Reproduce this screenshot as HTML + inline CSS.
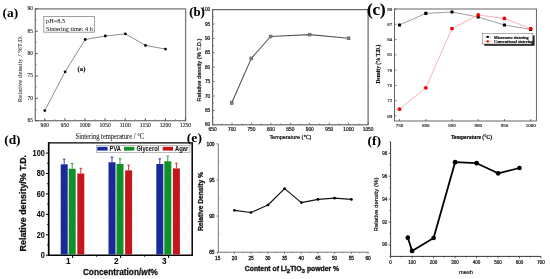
<!DOCTYPE html>
<html><head><meta charset="utf-8"><title>Relative density figure</title>
<style>html,body{margin:0;padding:0;background:#fff;}svg{display:block;filter:blur(0.3px);}
.s{font-family:"Liberation Serif","Times New Roman",serif;}
.a{font-family:"Liberation Sans",Arial,sans-serif;}</style>
</head><body>
<svg width="550" height="279" viewBox="0 0 550 279">
<rect width="550" height="279" fill="#fff"/>
<rect x="35.30" y="8.90" width="150.30" height="111.80" fill="none" stroke="#7a7a7a" stroke-width="1.3" />
<line x1="35.30" y1="120.70" x2="37.80" y2="120.70" stroke="#444" stroke-width="0.9" />
<text class="s" x="33.00" y="122.00" font-size="5.4" text-anchor="end" fill="#222"  stroke="#222" stroke-width="0.12">65</text>
<line x1="35.30" y1="98.34" x2="37.80" y2="98.34" stroke="#444" stroke-width="0.9" />
<text class="s" x="33.00" y="99.64" font-size="5.4" text-anchor="end" fill="#222"  stroke="#222" stroke-width="0.12">70</text>
<line x1="35.30" y1="75.98" x2="37.80" y2="75.98" stroke="#444" stroke-width="0.9" />
<text class="s" x="33.00" y="77.28" font-size="5.4" text-anchor="end" fill="#222"  stroke="#222" stroke-width="0.12">75</text>
<line x1="35.30" y1="53.62" x2="37.80" y2="53.62" stroke="#444" stroke-width="0.9" />
<text class="s" x="33.00" y="54.92" font-size="5.4" text-anchor="end" fill="#222"  stroke="#222" stroke-width="0.12">80</text>
<line x1="35.30" y1="31.26" x2="37.80" y2="31.26" stroke="#444" stroke-width="0.9" />
<text class="s" x="33.00" y="32.56" font-size="5.4" text-anchor="end" fill="#222"  stroke="#222" stroke-width="0.12">85</text>
<line x1="35.30" y1="8.90" x2="37.80" y2="8.90" stroke="#444" stroke-width="0.9" />
<text class="s" x="33.00" y="10.20" font-size="5.4" text-anchor="end" fill="#222"  stroke="#222" stroke-width="0.12">90</text>
<line x1="35.30" y1="109.52" x2="36.80" y2="109.52" stroke="#7a7a7a" stroke-width="0.8" />
<line x1="35.30" y1="87.16" x2="36.80" y2="87.16" stroke="#7a7a7a" stroke-width="0.8" />
<line x1="35.30" y1="64.80" x2="36.80" y2="64.80" stroke="#7a7a7a" stroke-width="0.8" />
<line x1="35.30" y1="42.44" x2="36.80" y2="42.44" stroke="#7a7a7a" stroke-width="0.8" />
<line x1="35.30" y1="20.08" x2="36.80" y2="20.08" stroke="#7a7a7a" stroke-width="0.8" />
<line x1="44.80" y1="120.70" x2="44.80" y2="118.20" stroke="#444" stroke-width="0.9" />
<text class="s" x="44.80" y="127.30" font-size="5.6" text-anchor="middle" fill="#222"  stroke="#222" stroke-width="0.12">900</text>
<line x1="64.90" y1="120.70" x2="64.90" y2="118.20" stroke="#444" stroke-width="0.9" />
<text class="s" x="64.90" y="127.30" font-size="5.6" text-anchor="middle" fill="#222"  stroke="#222" stroke-width="0.12">950</text>
<line x1="85.00" y1="120.70" x2="85.00" y2="118.20" stroke="#444" stroke-width="0.9" />
<text class="s" x="85.00" y="127.30" font-size="5.6" text-anchor="middle" fill="#222"  stroke="#222" stroke-width="0.12">1000</text>
<line x1="105.10" y1="120.70" x2="105.10" y2="118.20" stroke="#444" stroke-width="0.9" />
<text class="s" x="105.10" y="127.30" font-size="5.6" text-anchor="middle" fill="#222"  stroke="#222" stroke-width="0.12">1050</text>
<line x1="125.20" y1="120.70" x2="125.20" y2="118.20" stroke="#444" stroke-width="0.9" />
<text class="s" x="125.20" y="127.30" font-size="5.6" text-anchor="middle" fill="#222"  stroke="#222" stroke-width="0.12">1100</text>
<line x1="145.30" y1="120.70" x2="145.30" y2="118.20" stroke="#444" stroke-width="0.9" />
<text class="s" x="145.30" y="127.30" font-size="5.6" text-anchor="middle" fill="#222"  stroke="#222" stroke-width="0.12">1150</text>
<line x1="165.40" y1="120.70" x2="165.40" y2="118.20" stroke="#444" stroke-width="0.9" />
<text class="s" x="165.40" y="127.30" font-size="5.6" text-anchor="middle" fill="#222"  stroke="#222" stroke-width="0.12">1200</text>
<line x1="185.50" y1="120.70" x2="185.50" y2="118.20" stroke="#444" stroke-width="0.9" />
<text class="s" x="185.50" y="127.30" font-size="5.6" text-anchor="middle" fill="#222"  stroke="#222" stroke-width="0.12">1250</text>
<line x1="54.85" y1="120.70" x2="54.85" y2="119.20" stroke="#7a7a7a" stroke-width="0.8" />
<line x1="74.95" y1="120.70" x2="74.95" y2="119.20" stroke="#7a7a7a" stroke-width="0.8" />
<line x1="95.05" y1="120.70" x2="95.05" y2="119.20" stroke="#7a7a7a" stroke-width="0.8" />
<line x1="115.15" y1="120.70" x2="115.15" y2="119.20" stroke="#7a7a7a" stroke-width="0.8" />
<line x1="135.25" y1="120.70" x2="135.25" y2="119.20" stroke="#7a7a7a" stroke-width="0.8" />
<line x1="155.35" y1="120.70" x2="155.35" y2="119.20" stroke="#7a7a7a" stroke-width="0.8" />
<line x1="175.45" y1="120.70" x2="175.45" y2="119.20" stroke="#7a7a7a" stroke-width="0.8" />
<polyline points="44.80,110.60 65.10,71.80 85.20,39.50 105.30,36.00 125.40,33.90 145.50,45.40 165.50,49.10" fill="none" stroke="#707070" stroke-width="0.8" stroke-linejoin="round"/>
<circle cx="44.80" cy="110.60" r="1.4" fill="#000"/>
<circle cx="65.10" cy="71.80" r="1.4" fill="#000"/>
<circle cx="85.20" cy="39.50" r="1.4" fill="#000"/>
<circle cx="105.30" cy="36.00" r="1.4" fill="#000"/>
<circle cx="125.40" cy="33.90" r="1.4" fill="#000"/>
<circle cx="145.50" cy="45.40" r="1.4" fill="#000"/>
<circle cx="165.50" cy="49.10" r="1.4" fill="#000"/>
<rect x="43.80" y="16.60" width="50.60" height="15.60" fill="#fff" stroke="#888" stroke-width="0.8" />
<text class="s" x="46.00" y="23.20" font-size="6.9" fill="#111"  textLength="19.2" lengthAdjust="spacingAndGlyphs" stroke="#111" stroke-width="0.03">pH=8.5</text>
<text class="s" x="46.00" y="30.90" font-size="6.9" fill="#111"  textLength="46.8" lengthAdjust="spacingAndGlyphs" stroke="#111" stroke-width="0.03">Sintering time: 4 h</text>
<text class="s" x="77.60" y="71.20" font-size="6.2" font-weight="bold" fill="#000"  textLength="7.8" lengthAdjust="spacingAndGlyphs" stroke="#000" stroke-width="0.12">(a)</text>
<text class="s" x="21.60" y="68.80" font-size="7.0" text-anchor="middle" fill="#222" transform="rotate(-90 21.60 68.80)"  textLength="67.0" lengthAdjust="spacingAndGlyphs" stroke="#222" stroke-width="0.02">Relative density / %T.D.</text>
<text class="s" x="75.60" y="138.80" font-size="7.2" fill="#222"  textLength="68.6" lengthAdjust="spacingAndGlyphs" stroke="#222" stroke-width="0.08">Sintering temperature / °C</text>
<text class="s" x="2.60" y="17.00" font-size="13.4" font-weight="bold" fill="#000"  textLength="15.6" lengthAdjust="spacingAndGlyphs">(a)</text>
<rect x="212.60" y="9.60" width="155.50" height="115.20" fill="none" stroke="#666" stroke-width="1.2" />
<line x1="212.60" y1="124.80" x2="214.80" y2="124.80" stroke="#666" stroke-width="0.8" />
<text class="a" x="210.30" y="126.40" font-size="4.8" text-anchor="end" fill="#222"  stroke="#222" stroke-width="0.22">60</text>
<line x1="212.60" y1="110.40" x2="214.80" y2="110.40" stroke="#666" stroke-width="0.8" />
<text class="a" x="210.30" y="112.00" font-size="4.8" text-anchor="end" fill="#222"  stroke="#222" stroke-width="0.22">65</text>
<line x1="212.60" y1="96.00" x2="214.80" y2="96.00" stroke="#666" stroke-width="0.8" />
<text class="a" x="210.30" y="97.60" font-size="4.8" text-anchor="end" fill="#222"  stroke="#222" stroke-width="0.22">70</text>
<line x1="212.60" y1="81.60" x2="214.80" y2="81.60" stroke="#666" stroke-width="0.8" />
<text class="a" x="210.30" y="83.20" font-size="4.8" text-anchor="end" fill="#222"  stroke="#222" stroke-width="0.22">75</text>
<line x1="212.60" y1="67.20" x2="214.80" y2="67.20" stroke="#666" stroke-width="0.8" />
<text class="a" x="210.30" y="68.80" font-size="4.8" text-anchor="end" fill="#222"  stroke="#222" stroke-width="0.22">80</text>
<line x1="212.60" y1="52.80" x2="214.80" y2="52.80" stroke="#666" stroke-width="0.8" />
<text class="a" x="210.30" y="54.40" font-size="4.8" text-anchor="end" fill="#222"  stroke="#222" stroke-width="0.22">85</text>
<line x1="212.60" y1="38.40" x2="214.80" y2="38.40" stroke="#666" stroke-width="0.8" />
<text class="a" x="210.30" y="40.00" font-size="4.8" text-anchor="end" fill="#222"  stroke="#222" stroke-width="0.22">90</text>
<line x1="212.60" y1="24.00" x2="214.80" y2="24.00" stroke="#666" stroke-width="0.8" />
<text class="a" x="210.30" y="25.60" font-size="4.8" text-anchor="end" fill="#222"  stroke="#222" stroke-width="0.22">95</text>
<line x1="212.60" y1="9.60" x2="214.80" y2="9.60" stroke="#666" stroke-width="0.8" />
<text class="a" x="210.30" y="11.20" font-size="4.8" text-anchor="end" fill="#222"  stroke="#222" stroke-width="0.22">100</text>
<line x1="212.60" y1="117.60" x2="213.90" y2="117.60" stroke="#666" stroke-width="0.7" />
<line x1="212.60" y1="103.20" x2="213.90" y2="103.20" stroke="#666" stroke-width="0.7" />
<line x1="212.60" y1="88.80" x2="213.90" y2="88.80" stroke="#666" stroke-width="0.7" />
<line x1="212.60" y1="74.40" x2="213.90" y2="74.40" stroke="#666" stroke-width="0.7" />
<line x1="212.60" y1="60.00" x2="213.90" y2="60.00" stroke="#666" stroke-width="0.7" />
<line x1="212.60" y1="45.60" x2="213.90" y2="45.60" stroke="#666" stroke-width="0.7" />
<line x1="212.60" y1="31.20" x2="213.90" y2="31.20" stroke="#666" stroke-width="0.7" />
<line x1="212.60" y1="16.80" x2="213.90" y2="16.80" stroke="#666" stroke-width="0.7" />
<line x1="212.60" y1="124.80" x2="212.60" y2="122.60" stroke="#666" stroke-width="0.8" />
<text class="a" x="212.60" y="131.40" font-size="4.8" text-anchor="middle" fill="#222"  stroke="#222" stroke-width="0.22">650</text>
<line x1="232.04" y1="124.80" x2="232.04" y2="122.60" stroke="#666" stroke-width="0.8" />
<text class="a" x="232.04" y="131.40" font-size="4.8" text-anchor="middle" fill="#222"  stroke="#222" stroke-width="0.22">700</text>
<line x1="251.47" y1="124.80" x2="251.47" y2="122.60" stroke="#666" stroke-width="0.8" />
<text class="a" x="251.47" y="131.40" font-size="4.8" text-anchor="middle" fill="#222"  stroke="#222" stroke-width="0.22">750</text>
<line x1="270.91" y1="124.80" x2="270.91" y2="122.60" stroke="#666" stroke-width="0.8" />
<text class="a" x="270.91" y="131.40" font-size="4.8" text-anchor="middle" fill="#222"  stroke="#222" stroke-width="0.22">800</text>
<line x1="290.35" y1="124.80" x2="290.35" y2="122.60" stroke="#666" stroke-width="0.8" />
<text class="a" x="290.35" y="131.40" font-size="4.8" text-anchor="middle" fill="#222"  stroke="#222" stroke-width="0.22">850</text>
<line x1="309.79" y1="124.80" x2="309.79" y2="122.60" stroke="#666" stroke-width="0.8" />
<text class="a" x="309.79" y="131.40" font-size="4.8" text-anchor="middle" fill="#222"  stroke="#222" stroke-width="0.22">900</text>
<line x1="329.23" y1="124.80" x2="329.23" y2="122.60" stroke="#666" stroke-width="0.8" />
<text class="a" x="329.23" y="131.40" font-size="4.8" text-anchor="middle" fill="#222"  stroke="#222" stroke-width="0.22">950</text>
<line x1="348.66" y1="124.80" x2="348.66" y2="122.60" stroke="#666" stroke-width="0.8" />
<text class="a" x="348.66" y="131.40" font-size="4.8" text-anchor="middle" fill="#222"  stroke="#222" stroke-width="0.22">1000</text>
<line x1="368.10" y1="124.80" x2="368.10" y2="122.60" stroke="#666" stroke-width="0.8" />
<text class="a" x="368.10" y="131.40" font-size="4.8" text-anchor="middle" fill="#222"  stroke="#222" stroke-width="0.22">1050</text>
<line x1="222.32" y1="124.80" x2="222.32" y2="123.50" stroke="#666" stroke-width="0.7" />
<line x1="241.76" y1="124.80" x2="241.76" y2="123.50" stroke="#666" stroke-width="0.7" />
<line x1="261.19" y1="124.80" x2="261.19" y2="123.50" stroke="#666" stroke-width="0.7" />
<line x1="280.63" y1="124.80" x2="280.63" y2="123.50" stroke="#666" stroke-width="0.7" />
<line x1="300.07" y1="124.80" x2="300.07" y2="123.50" stroke="#666" stroke-width="0.7" />
<line x1="319.51" y1="124.80" x2="319.51" y2="123.50" stroke="#666" stroke-width="0.7" />
<line x1="338.94" y1="124.80" x2="338.94" y2="123.50" stroke="#666" stroke-width="0.7" />
<line x1="358.38" y1="124.80" x2="358.38" y2="123.50" stroke="#666" stroke-width="0.7" />
<polyline points="231.70,103.00 251.30,58.40 270.60,36.50 309.60,34.60 348.60,38.30" fill="none" stroke="#555" stroke-width="1.1" stroke-linejoin="round"/>
<rect x="230.30" y="101.60" width="2.80" height="2.80" fill="#888" stroke="#555" stroke-width="0.6" />
<rect x="249.90" y="57.00" width="2.80" height="2.80" fill="#888" stroke="#555" stroke-width="0.6" />
<rect x="269.20" y="35.10" width="2.80" height="2.80" fill="#888" stroke="#555" stroke-width="0.6" />
<rect x="308.20" y="33.20" width="2.80" height="2.80" fill="#888" stroke="#555" stroke-width="0.6" />
<rect x="347.20" y="36.90" width="2.80" height="2.80" fill="#888" stroke="#555" stroke-width="0.6" />
<text class="a" x="200.80" y="70.00" font-size="5.8" text-anchor="middle" fill="#111" transform="rotate(-90 200.80 70.00)"  textLength="62.8" lengthAdjust="spacingAndGlyphs" stroke="#111" stroke-width="0.22">Relative density (% T.D.)</text>
<text class="a" x="269.40" y="139.40" font-size="5.5" fill="#111"  textLength="42.0" lengthAdjust="spacingAndGlyphs" stroke="#111" stroke-width="0.22">Temperature (<tspan style="font-family:'DejaVu Sans',sans-serif">℃</tspan>)</text>
<text class="s" x="189.20" y="16.10" font-size="12.8" font-weight="bold" fill="#000"  textLength="15.6" lengthAdjust="spacingAndGlyphs" stroke="#000" stroke-width="0.1">(b)</text>
<rect x="394.50" y="9.00" width="141.90" height="112.00" fill="none" stroke="#555" stroke-width="0.9" />
<line x1="394.50" y1="115.91" x2="396.50" y2="115.91" stroke="#444" stroke-width="0.7" />
<text class="s" x="392.30" y="117.51" font-size="5.0" text-anchor="end" fill="#222"  stroke="#222" stroke-width="0.15">69</text>
<line x1="394.50" y1="100.64" x2="396.50" y2="100.64" stroke="#444" stroke-width="0.7" />
<text class="s" x="392.30" y="102.24" font-size="5.0" text-anchor="end" fill="#222"  stroke="#222" stroke-width="0.15">72</text>
<line x1="394.50" y1="85.36" x2="396.50" y2="85.36" stroke="#444" stroke-width="0.7" />
<text class="s" x="392.30" y="86.96" font-size="5.0" text-anchor="end" fill="#222"  stroke="#222" stroke-width="0.15">75</text>
<line x1="394.50" y1="70.09" x2="396.50" y2="70.09" stroke="#444" stroke-width="0.7" />
<text class="s" x="392.30" y="71.69" font-size="5.0" text-anchor="end" fill="#222"  stroke="#222" stroke-width="0.15">78</text>
<line x1="394.50" y1="54.82" x2="396.50" y2="54.82" stroke="#444" stroke-width="0.7" />
<text class="s" x="392.30" y="56.42" font-size="5.0" text-anchor="end" fill="#222"  stroke="#222" stroke-width="0.15">81</text>
<line x1="394.50" y1="39.55" x2="396.50" y2="39.55" stroke="#444" stroke-width="0.7" />
<text class="s" x="392.30" y="41.15" font-size="5.0" text-anchor="end" fill="#222"  stroke="#222" stroke-width="0.15">84</text>
<line x1="394.50" y1="24.27" x2="396.50" y2="24.27" stroke="#444" stroke-width="0.7" />
<text class="s" x="392.30" y="25.87" font-size="5.0" text-anchor="end" fill="#222"  stroke="#222" stroke-width="0.15">87</text>
<line x1="394.50" y1="9.00" x2="396.50" y2="9.00" stroke="#444" stroke-width="0.7" />
<text class="s" x="392.30" y="10.60" font-size="5.0" text-anchor="end" fill="#222"  stroke="#222" stroke-width="0.15">90</text>
<line x1="399.50" y1="121.00" x2="399.50" y2="119.00" stroke="#444" stroke-width="0.7" />
<text class="s" x="399.50" y="126.90" font-size="5.0" text-anchor="middle" fill="#222"  stroke="#222" stroke-width="0.15">750</text>
<line x1="425.75" y1="121.00" x2="425.75" y2="119.00" stroke="#444" stroke-width="0.7" />
<text class="s" x="425.75" y="126.90" font-size="5.0" text-anchor="middle" fill="#222"  stroke="#222" stroke-width="0.15">800</text>
<line x1="452.00" y1="121.00" x2="452.00" y2="119.00" stroke="#444" stroke-width="0.7" />
<text class="s" x="452.00" y="126.90" font-size="5.0" text-anchor="middle" fill="#222"  stroke="#222" stroke-width="0.15">850</text>
<line x1="478.25" y1="121.00" x2="478.25" y2="119.00" stroke="#444" stroke-width="0.7" />
<text class="s" x="478.25" y="126.90" font-size="5.0" text-anchor="middle" fill="#222"  stroke="#222" stroke-width="0.15">900</text>
<line x1="504.50" y1="121.00" x2="504.50" y2="119.00" stroke="#444" stroke-width="0.7" />
<text class="s" x="504.50" y="126.90" font-size="5.0" text-anchor="middle" fill="#222"  stroke="#222" stroke-width="0.15">950</text>
<line x1="530.75" y1="121.00" x2="530.75" y2="119.00" stroke="#444" stroke-width="0.7" />
<text class="s" x="530.75" y="126.90" font-size="5.0" text-anchor="middle" fill="#222"  stroke="#222" stroke-width="0.15">1000</text>
<polyline points="399.50,25.00 425.80,13.40 452.00,12.00 478.20,17.00 504.40,25.00 530.70,29.40" fill="none" stroke="#9a9a9a" stroke-width="0.95" stroke-linejoin="round"/>
<polyline points="399.50,109.20 425.80,87.80 452.00,28.60 478.20,15.00 504.40,18.40 530.70,28.60" fill="none" stroke="#f6aaaa" stroke-width="0.9" stroke-linejoin="round"/>
<rect x="397.95" y="23.45" width="3.10" height="3.10" fill="#000" stroke="none" stroke-width="1" rx="0.5"/>
<rect x="424.25" y="11.85" width="3.10" height="3.10" fill="#000" stroke="none" stroke-width="1" rx="0.5"/>
<rect x="450.45" y="10.45" width="3.10" height="3.10" fill="#000" stroke="none" stroke-width="1" rx="0.5"/>
<rect x="476.65" y="15.45" width="3.10" height="3.10" fill="#000" stroke="none" stroke-width="1" rx="0.5"/>
<rect x="502.85" y="23.45" width="3.10" height="3.10" fill="#000" stroke="none" stroke-width="1" rx="0.5"/>
<rect x="529.15" y="27.85" width="3.10" height="3.10" fill="#000" stroke="none" stroke-width="1" rx="0.5"/>
<circle cx="399.50" cy="109.20" r="1.9" fill="#f00000"/>
<circle cx="425.80" cy="87.80" r="1.9" fill="#f00000"/>
<circle cx="452.00" cy="28.60" r="1.9" fill="#f00000"/>
<circle cx="478.20" cy="15.00" r="1.9" fill="#f00000"/>
<circle cx="504.40" cy="18.40" r="1.9" fill="#f00000"/>
<circle cx="530.70" cy="28.60" r="1.9" fill="#f00000"/>
<rect x="484.20" y="35.50" width="50.40" height="10.30" fill="#222" stroke="none" stroke-width="1" />
<rect x="482.40" y="33.70" width="50.40" height="10.30" fill="#fff" stroke="#666" stroke-width="0.5" />
<line x1="484.00" y1="36.90" x2="491.50" y2="36.90" stroke="#888" stroke-width="0.5" />
<circle cx="487.70" cy="36.90" r="1.2" fill="#000"/>
<line x1="484.00" y1="41.40" x2="491.50" y2="41.40" stroke="#f39a9a" stroke-width="0.5" />
<circle cx="487.70" cy="41.40" r="1.2" fill="#e00"/>
<text class="s" x="494.00" y="38.50" font-size="4.2" font-weight="bold" fill="#000"  textLength="34.5" lengthAdjust="spacingAndGlyphs" stroke="#000" stroke-width="0.15">Microwave sintering</text>
<text class="s" x="494.00" y="42.50" font-size="4.2" font-weight="bold" fill="#000"  textLength="39.0" lengthAdjust="spacingAndGlyphs" stroke="#000" stroke-width="0.15">Conventional sintering</text>
<text class="s" x="379.90" y="64.10" font-size="5.4" text-anchor="middle" font-weight="bold" fill="#000" transform="rotate(-90 379.90 64.10)"  textLength="39.0" lengthAdjust="spacingAndGlyphs" stroke="#000" stroke-width="0.15">Density (% T.D.)</text>
<text class="s" x="451.00" y="139.10" font-size="6.0" font-weight="bold" fill="#000"  textLength="41.0" lengthAdjust="spacingAndGlyphs" stroke="#000" stroke-width="0.15">Temperature (°C)</text>
<text class="s" x="366.90" y="14.70" font-size="17.6" font-weight="bold" fill="#000"  textLength="18.8" lengthAdjust="spacingAndGlyphs" stroke="#000" stroke-width="0.15">(c)</text>
<line x1="48.70" y1="142.20" x2="48.70" y2="255.90" stroke="#000" stroke-width="1.7" />
<line x1="48.70" y1="142.80" x2="192.20" y2="142.80" stroke="#000" stroke-width="1.2" />
<line x1="192.20" y1="142.20" x2="192.20" y2="255.90" stroke="#000" stroke-width="1.5" />
<line x1="48.70" y1="255.20" x2="192.20" y2="255.20" stroke="#000" stroke-width="1.4" />
<line x1="45.90" y1="255.20" x2="48.70" y2="255.20" stroke="#000" stroke-width="1.0" />
<text class="a" x="44.80" y="258.10" font-size="8.8" text-anchor="end" font-weight="bold" fill="#111"  textLength="4.1" lengthAdjust="spacingAndGlyphs" stroke="#111" stroke-width="0.12">0</text>
<line x1="45.90" y1="234.78" x2="48.70" y2="234.78" stroke="#000" stroke-width="1.0" />
<text class="a" x="44.80" y="237.68" font-size="8.8" text-anchor="end" font-weight="bold" fill="#111"  textLength="8.1" lengthAdjust="spacingAndGlyphs" stroke="#111" stroke-width="0.12">20</text>
<line x1="45.90" y1="214.36" x2="48.70" y2="214.36" stroke="#000" stroke-width="1.0" />
<text class="a" x="44.80" y="217.26" font-size="8.8" text-anchor="end" font-weight="bold" fill="#111"  textLength="8.1" lengthAdjust="spacingAndGlyphs" stroke="#111" stroke-width="0.12">40</text>
<line x1="45.90" y1="193.94" x2="48.70" y2="193.94" stroke="#000" stroke-width="1.0" />
<text class="a" x="44.80" y="196.84" font-size="8.8" text-anchor="end" font-weight="bold" fill="#111"  textLength="8.1" lengthAdjust="spacingAndGlyphs" stroke="#111" stroke-width="0.12">60</text>
<line x1="45.90" y1="173.52" x2="48.70" y2="173.52" stroke="#000" stroke-width="1.0" />
<text class="a" x="44.80" y="176.42" font-size="8.8" text-anchor="end" font-weight="bold" fill="#111"  textLength="8.1" lengthAdjust="spacingAndGlyphs" stroke="#111" stroke-width="0.12">80</text>
<line x1="45.90" y1="153.10" x2="48.70" y2="153.10" stroke="#000" stroke-width="1.0" />
<text class="a" x="44.80" y="156.00" font-size="8.8" text-anchor="end" font-weight="bold" fill="#111"  textLength="12.2" lengthAdjust="spacingAndGlyphs" stroke="#111" stroke-width="0.12">100</text>
<line x1="47.10" y1="244.99" x2="48.70" y2="244.99" stroke="#000" stroke-width="0.9" />
<line x1="47.10" y1="224.57" x2="48.70" y2="224.57" stroke="#000" stroke-width="0.9" />
<line x1="47.10" y1="204.15" x2="48.70" y2="204.15" stroke="#000" stroke-width="0.9" />
<line x1="47.10" y1="183.73" x2="48.70" y2="183.73" stroke="#000" stroke-width="0.9" />
<line x1="47.10" y1="163.31" x2="48.70" y2="163.31" stroke="#000" stroke-width="0.9" />
<line x1="72.60" y1="255.20" x2="72.60" y2="258.00" stroke="#000" stroke-width="1.0" />
<line x1="120.60" y1="255.20" x2="120.60" y2="258.00" stroke="#000" stroke-width="1.0" />
<line x1="168.60" y1="255.20" x2="168.60" y2="258.00" stroke="#000" stroke-width="1.0" />
<line x1="96.60" y1="255.20" x2="96.60" y2="256.80" stroke="#000" stroke-width="0.9" />
<line x1="144.60" y1="255.20" x2="144.60" y2="256.80" stroke="#000" stroke-width="0.9" />
<text class="a" x="68.30" y="264.10" font-size="8.2" text-anchor="middle" font-weight="bold" fill="#111"  stroke="#111" stroke-width="0.08">1</text>
<text class="a" x="116.30" y="264.10" font-size="8.2" text-anchor="middle" font-weight="bold" fill="#111"  stroke="#111" stroke-width="0.08">2</text>
<text class="a" x="164.30" y="264.10" font-size="8.2" text-anchor="middle" font-weight="bold" fill="#111"  stroke="#111" stroke-width="0.08">3</text>
<defs>
<pattern id="hb" patternUnits="userSpaceOnUse" width="2.2" height="2.2" patternTransform="rotate(-45)"><rect width="2.2" height="2.2" fill="#1a2ea6"/><rect width="0.8" height="2.2" fill="#142484"/></pattern>
<pattern id="hg" patternUnits="userSpaceOnUse" width="2.2" height="2.2" patternTransform="rotate(-45)"><rect width="2.2" height="2.2" fill="#12982a"/><rect width="0.8" height="2.2" fill="#0f8224"/></pattern>
<pattern id="hr" patternUnits="userSpaceOnUse" width="2.2" height="2.2" patternTransform="rotate(-45)"><rect width="2.2" height="2.2" fill="#d0181e"/><rect width="0.8" height="2.2" fill="#b01419"/></pattern>
</defs>
<rect x="60.70" y="164.33" width="7.00" height="90.17" fill="url(#hb)" stroke="none" stroke-width="1" />
<line x1="64.20" y1="164.33" x2="64.20" y2="159.13" stroke="#1a2ea6" stroke-width="0.9" />
<line x1="62.90" y1="159.13" x2="65.50" y2="159.13" stroke="#1a2ea6" stroke-width="0.9" />
<rect x="68.70" y="168.72" width="7.00" height="85.78" fill="url(#hg)" stroke="none" stroke-width="1" />
<line x1="72.20" y1="168.72" x2="72.20" y2="163.52" stroke="#12982a" stroke-width="0.9" />
<line x1="70.90" y1="163.52" x2="73.50" y2="163.52" stroke="#12982a" stroke-width="0.9" />
<rect x="77.30" y="173.52" width="7.00" height="80.98" fill="url(#hr)" stroke="none" stroke-width="1" />
<line x1="80.80" y1="173.52" x2="80.80" y2="168.32" stroke="#d0181e" stroke-width="0.9" />
<line x1="79.50" y1="168.32" x2="82.10" y2="168.32" stroke="#d0181e" stroke-width="0.9" />
<rect x="108.50" y="162.29" width="7.00" height="92.21" fill="url(#hb)" stroke="none" stroke-width="1" />
<line x1="112.00" y1="162.29" x2="112.00" y2="157.09" stroke="#1a2ea6" stroke-width="0.9" />
<line x1="110.70" y1="157.09" x2="113.30" y2="157.09" stroke="#1a2ea6" stroke-width="0.9" />
<rect x="116.50" y="163.92" width="7.00" height="90.58" fill="url(#hg)" stroke="none" stroke-width="1" />
<line x1="120.00" y1="163.92" x2="120.00" y2="158.72" stroke="#12982a" stroke-width="0.9" />
<line x1="118.70" y1="158.72" x2="121.30" y2="158.72" stroke="#12982a" stroke-width="0.9" />
<rect x="125.10" y="170.35" width="7.00" height="84.15" fill="url(#hr)" stroke="none" stroke-width="1" />
<line x1="128.60" y1="170.35" x2="128.60" y2="165.15" stroke="#d0181e" stroke-width="0.9" />
<line x1="127.30" y1="165.15" x2="129.90" y2="165.15" stroke="#d0181e" stroke-width="0.9" />
<rect x="156.30" y="164.02" width="7.00" height="90.48" fill="url(#hb)" stroke="none" stroke-width="1" />
<line x1="159.80" y1="164.02" x2="159.80" y2="158.82" stroke="#1a2ea6" stroke-width="0.9" />
<line x1="158.50" y1="158.82" x2="161.10" y2="158.82" stroke="#1a2ea6" stroke-width="0.9" />
<rect x="164.30" y="161.27" width="7.00" height="93.23" fill="url(#hg)" stroke="none" stroke-width="1" />
<line x1="167.80" y1="161.27" x2="167.80" y2="156.07" stroke="#12982a" stroke-width="0.9" />
<line x1="166.50" y1="156.07" x2="169.10" y2="156.07" stroke="#12982a" stroke-width="0.9" />
<rect x="172.90" y="168.41" width="7.00" height="86.09" fill="url(#hr)" stroke="none" stroke-width="1" />
<line x1="176.40" y1="168.41" x2="176.40" y2="163.22" stroke="#d0181e" stroke-width="0.9" />
<line x1="175.10" y1="163.22" x2="177.70" y2="163.22" stroke="#d0181e" stroke-width="0.9" />
<rect x="96.40" y="145.40" width="93.50" height="7.30" fill="#fff" stroke="#777" stroke-width="0.5" />
<rect x="97.30" y="146.80" width="10.30" height="3.80" fill="url(#hb)" stroke="none" stroke-width="1" />
<text class="a" x="109.60" y="151.20" font-size="6.3" font-weight="bold" fill="#111"  textLength="11.4" lengthAdjust="spacingAndGlyphs" stroke="#111" stroke-width="0.04">PVA</text>
<rect x="124.00" y="146.80" width="10.30" height="3.80" fill="url(#hg)" stroke="none" stroke-width="1" />
<text class="a" x="136.40" y="151.20" font-size="6.3" font-weight="bold" fill="#111"  textLength="22.8" lengthAdjust="spacingAndGlyphs" stroke="#111" stroke-width="0.04">Glycerol</text>
<rect x="162.70" y="146.80" width="10.30" height="3.80" fill="url(#hr)" stroke="none" stroke-width="1" />
<text class="a" x="175.00" y="151.20" font-size="6.3" font-weight="bold" fill="#111"  textLength="13.2" lengthAdjust="spacingAndGlyphs" stroke="#111" stroke-width="0.04">Agar</text>
<text class="a" x="25.60" y="203.20" font-size="8.8" text-anchor="middle" font-weight="bold" fill="#111" transform="rotate(-90 25.60 203.20)"  textLength="96.5" lengthAdjust="spacingAndGlyphs" stroke="#111" stroke-width="0.28">Relative density/% T.D.</text>
<text class="a" x="82.90" y="275.10" font-size="8.7" font-weight="bold" fill="#111"  textLength="74.9" lengthAdjust="spacingAndGlyphs" stroke="#111" stroke-width="0.28">Concentration/<tspan font-style="italic">wt</tspan>%</text>
<text class="s" x="4.20" y="144.30" font-size="13.2" font-weight="bold" fill="#000"  textLength="16.4" lengthAdjust="spacingAndGlyphs">(d)</text>
<line x1="218.30" y1="143.80" x2="218.30" y2="252.20" stroke="#555" stroke-width="0.8" />
<line x1="218.30" y1="252.20" x2="368.60" y2="252.20" stroke="#555" stroke-width="0.8" />
<line x1="216.50" y1="252.20" x2="218.30" y2="252.20" stroke="#555" stroke-width="0.7" />
<text class="a" x="214.60" y="253.90" font-size="4.9" text-anchor="end" fill="#222"  stroke="#222" stroke-width="0.3">85</text>
<line x1="216.50" y1="216.07" x2="218.30" y2="216.07" stroke="#555" stroke-width="0.7" />
<text class="a" x="214.60" y="217.77" font-size="4.9" text-anchor="end" fill="#222"  stroke="#222" stroke-width="0.3">90</text>
<line x1="216.50" y1="179.93" x2="218.30" y2="179.93" stroke="#555" stroke-width="0.7" />
<text class="a" x="214.60" y="181.63" font-size="4.9" text-anchor="end" fill="#222"  stroke="#222" stroke-width="0.3">95</text>
<line x1="216.50" y1="143.80" x2="218.30" y2="143.80" stroke="#555" stroke-width="0.7" />
<text class="a" x="214.60" y="145.50" font-size="4.9" text-anchor="end" fill="#222"  stroke="#222" stroke-width="0.3">100</text>
<line x1="218.30" y1="234.13" x2="219.30" y2="234.13" stroke="#555" stroke-width="0.6" />
<line x1="218.30" y1="198.00" x2="219.30" y2="198.00" stroke="#555" stroke-width="0.6" />
<line x1="218.30" y1="161.87" x2="219.30" y2="161.87" stroke="#555" stroke-width="0.6" />
<line x1="217.70" y1="252.20" x2="217.70" y2="254.00" stroke="#555" stroke-width="0.7" />
<text class="a" x="217.70" y="259.60" font-size="4.7" text-anchor="middle" fill="#222"  stroke="#222" stroke-width="0.3">15</text>
<line x1="234.40" y1="252.20" x2="234.40" y2="254.00" stroke="#555" stroke-width="0.7" />
<text class="a" x="234.40" y="259.60" font-size="4.7" text-anchor="middle" fill="#222"  stroke="#222" stroke-width="0.3">20</text>
<line x1="251.10" y1="252.20" x2="251.10" y2="254.00" stroke="#555" stroke-width="0.7" />
<text class="a" x="251.10" y="259.60" font-size="4.7" text-anchor="middle" fill="#222"  stroke="#222" stroke-width="0.3">25</text>
<line x1="267.80" y1="252.20" x2="267.80" y2="254.00" stroke="#555" stroke-width="0.7" />
<text class="a" x="267.80" y="259.60" font-size="4.7" text-anchor="middle" fill="#222"  stroke="#222" stroke-width="0.3">30</text>
<line x1="284.50" y1="252.20" x2="284.50" y2="254.00" stroke="#555" stroke-width="0.7" />
<text class="a" x="284.50" y="259.60" font-size="4.7" text-anchor="middle" fill="#222"  stroke="#222" stroke-width="0.3">35</text>
<line x1="301.20" y1="252.20" x2="301.20" y2="254.00" stroke="#555" stroke-width="0.7" />
<text class="a" x="301.20" y="259.60" font-size="4.7" text-anchor="middle" fill="#222"  stroke="#222" stroke-width="0.3">40</text>
<line x1="317.90" y1="252.20" x2="317.90" y2="254.00" stroke="#555" stroke-width="0.7" />
<text class="a" x="317.90" y="259.60" font-size="4.7" text-anchor="middle" fill="#222"  stroke="#222" stroke-width="0.3">45</text>
<line x1="334.60" y1="252.20" x2="334.60" y2="254.00" stroke="#555" stroke-width="0.7" />
<text class="a" x="334.60" y="259.60" font-size="4.7" text-anchor="middle" fill="#222"  stroke="#222" stroke-width="0.3">50</text>
<line x1="351.30" y1="252.20" x2="351.30" y2="254.00" stroke="#555" stroke-width="0.7" />
<text class="a" x="351.30" y="259.60" font-size="4.7" text-anchor="middle" fill="#222"  stroke="#222" stroke-width="0.3">55</text>
<line x1="368.00" y1="252.20" x2="368.00" y2="254.00" stroke="#555" stroke-width="0.7" />
<text class="a" x="368.00" y="259.60" font-size="4.7" text-anchor="middle" fill="#222"  stroke="#222" stroke-width="0.3">60</text>
<line x1="226.05" y1="252.20" x2="226.05" y2="253.20" stroke="#555" stroke-width="0.6" />
<line x1="242.75" y1="252.20" x2="242.75" y2="253.20" stroke="#555" stroke-width="0.6" />
<line x1="259.45" y1="252.20" x2="259.45" y2="253.20" stroke="#555" stroke-width="0.6" />
<line x1="276.15" y1="252.20" x2="276.15" y2="253.20" stroke="#555" stroke-width="0.6" />
<line x1="292.85" y1="252.20" x2="292.85" y2="253.20" stroke="#555" stroke-width="0.6" />
<line x1="309.55" y1="252.20" x2="309.55" y2="253.20" stroke="#555" stroke-width="0.6" />
<line x1="326.25" y1="252.20" x2="326.25" y2="253.20" stroke="#555" stroke-width="0.6" />
<line x1="342.95" y1="252.20" x2="342.95" y2="253.20" stroke="#555" stroke-width="0.6" />
<line x1="359.65" y1="252.20" x2="359.65" y2="253.20" stroke="#555" stroke-width="0.6" />
<polyline points="234.40,210.30 250.90,212.50 268.00,205.00 284.60,188.60 301.40,202.60 318.00,199.40 334.60,198.20 351.40,199.40" fill="none" stroke="#111" stroke-width="1.2" stroke-linejoin="round"/>
<circle cx="234.40" cy="210.30" r="1.35" fill="#000"/>
<circle cx="250.90" cy="212.50" r="1.35" fill="#000"/>
<circle cx="268.00" cy="205.00" r="1.35" fill="#000"/>
<circle cx="284.60" cy="188.60" r="1.35" fill="#000"/>
<circle cx="301.40" cy="202.60" r="1.35" fill="#000"/>
<circle cx="318.00" cy="199.40" r="1.35" fill="#000"/>
<circle cx="334.60" cy="198.20" r="1.35" fill="#000"/>
<circle cx="351.40" cy="199.40" r="1.35" fill="#000"/>
<text class="a" x="202.90" y="201.60" font-size="6.7" text-anchor="middle" font-weight="bold" fill="#111" transform="rotate(-90 202.90 201.60)"  textLength="58.8" lengthAdjust="spacingAndGlyphs" stroke="#111" stroke-width="0.3">Relative Density %</text>
<text class="a" x="244.80" y="270.70" font-size="6.6" font-weight="bold" fill="#111"  textLength="94.4" lengthAdjust="spacingAndGlyphs" stroke="#111" stroke-width="0.3">Content of Li<tspan font-size="6.0" dy="1.9">2</tspan><tspan dy="-1.9">TiO</tspan><tspan font-size="6.0" dy="1.9">3</tspan><tspan dy="-1.9"> powder %</tspan></text>
<text class="s" x="186.80" y="142.30" font-size="13.4" font-weight="bold" fill="#000"  textLength="15.2" lengthAdjust="spacingAndGlyphs">(e)</text>
<line x1="390.60" y1="141.80" x2="390.60" y2="256.40" stroke="#222" stroke-width="0.9" />
<line x1="390.60" y1="256.40" x2="541.00" y2="256.40" stroke="#222" stroke-width="0.9" />
<line x1="388.60" y1="244.94" x2="390.60" y2="244.94" stroke="#222" stroke-width="0.7" />
<text class="a" x="387.20" y="246.44" font-size="4.5" text-anchor="end" fill="#222"  stroke="#222" stroke-width="0.22">90</text>
<line x1="388.60" y1="222.02" x2="390.60" y2="222.02" stroke="#222" stroke-width="0.7" />
<text class="a" x="387.20" y="223.52" font-size="4.5" text-anchor="end" fill="#222"  stroke="#222" stroke-width="0.22">92</text>
<line x1="388.60" y1="199.10" x2="390.60" y2="199.10" stroke="#222" stroke-width="0.7" />
<text class="a" x="387.20" y="200.60" font-size="4.5" text-anchor="end" fill="#222"  stroke="#222" stroke-width="0.22">94</text>
<line x1="388.60" y1="176.18" x2="390.60" y2="176.18" stroke="#222" stroke-width="0.7" />
<text class="a" x="387.20" y="177.68" font-size="4.5" text-anchor="end" fill="#222"  stroke="#222" stroke-width="0.22">96</text>
<line x1="388.60" y1="153.26" x2="390.60" y2="153.26" stroke="#222" stroke-width="0.7" />
<text class="a" x="387.20" y="154.76" font-size="4.5" text-anchor="end" fill="#222"  stroke="#222" stroke-width="0.22">98</text>
<line x1="389.40" y1="256.40" x2="390.60" y2="256.40" stroke="#222" stroke-width="0.6" />
<line x1="389.40" y1="233.48" x2="390.60" y2="233.48" stroke="#222" stroke-width="0.6" />
<line x1="389.40" y1="210.56" x2="390.60" y2="210.56" stroke="#222" stroke-width="0.6" />
<line x1="389.40" y1="187.64" x2="390.60" y2="187.64" stroke="#222" stroke-width="0.6" />
<line x1="389.40" y1="164.72" x2="390.60" y2="164.72" stroke="#222" stroke-width="0.6" />
<line x1="389.40" y1="141.80" x2="390.60" y2="141.80" stroke="#222" stroke-width="0.6" />
<line x1="390.60" y1="256.40" x2="390.60" y2="258.40" stroke="#222" stroke-width="0.7" />
<text class="a" x="390.60" y="264.00" font-size="4.5" text-anchor="middle" fill="#222"  stroke="#222" stroke-width="0.22">0</text>
<line x1="412.09" y1="256.40" x2="412.09" y2="258.40" stroke="#222" stroke-width="0.7" />
<text class="a" x="412.09" y="264.00" font-size="4.5" text-anchor="middle" fill="#222"  stroke="#222" stroke-width="0.22">100</text>
<line x1="433.57" y1="256.40" x2="433.57" y2="258.40" stroke="#222" stroke-width="0.7" />
<text class="a" x="433.57" y="264.00" font-size="4.5" text-anchor="middle" fill="#222"  stroke="#222" stroke-width="0.22">200</text>
<line x1="455.06" y1="256.40" x2="455.06" y2="258.40" stroke="#222" stroke-width="0.7" />
<text class="a" x="455.06" y="264.00" font-size="4.5" text-anchor="middle" fill="#222"  stroke="#222" stroke-width="0.22">300</text>
<line x1="476.54" y1="256.40" x2="476.54" y2="258.40" stroke="#222" stroke-width="0.7" />
<text class="a" x="476.54" y="264.00" font-size="4.5" text-anchor="middle" fill="#222"  stroke="#222" stroke-width="0.22">400</text>
<line x1="498.03" y1="256.40" x2="498.03" y2="258.40" stroke="#222" stroke-width="0.7" />
<text class="a" x="498.03" y="264.00" font-size="4.5" text-anchor="middle" fill="#222"  stroke="#222" stroke-width="0.22">500</text>
<line x1="519.51" y1="256.40" x2="519.51" y2="258.40" stroke="#222" stroke-width="0.7" />
<text class="a" x="519.51" y="264.00" font-size="4.5" text-anchor="middle" fill="#222"  stroke="#222" stroke-width="0.22">600</text>
<line x1="541.00" y1="256.40" x2="541.00" y2="258.40" stroke="#222" stroke-width="0.7" />
<text class="a" x="541.00" y="264.00" font-size="4.5" text-anchor="middle" fill="#222"  stroke="#222" stroke-width="0.22">700</text>
<line x1="401.34" y1="256.40" x2="401.34" y2="257.60" stroke="#222" stroke-width="0.6" />
<line x1="422.83" y1="256.40" x2="422.83" y2="257.60" stroke="#222" stroke-width="0.6" />
<line x1="444.31" y1="256.40" x2="444.31" y2="257.60" stroke="#222" stroke-width="0.6" />
<line x1="465.80" y1="256.40" x2="465.80" y2="257.60" stroke="#222" stroke-width="0.6" />
<line x1="487.29" y1="256.40" x2="487.29" y2="257.60" stroke="#222" stroke-width="0.6" />
<line x1="508.77" y1="256.40" x2="508.77" y2="257.60" stroke="#222" stroke-width="0.6" />
<line x1="530.26" y1="256.40" x2="530.26" y2="257.60" stroke="#222" stroke-width="0.6" />
<polyline points="407.80,237.70 412.10,250.90 433.60,238.00 455.10,162.20 476.60,163.20 498.10,173.30 519.50,168.00" fill="none" stroke="#000" stroke-width="1.8" stroke-linejoin="round"/>
<circle cx="407.80" cy="237.70" r="2.35" fill="#000"/>
<circle cx="412.10" cy="250.90" r="2.35" fill="#000"/>
<circle cx="433.60" cy="238.00" r="2.35" fill="#000"/>
<circle cx="455.10" cy="162.20" r="2.35" fill="#000"/>
<circle cx="476.60" cy="163.20" r="2.35" fill="#000"/>
<circle cx="498.10" cy="173.30" r="2.35" fill="#000"/>
<circle cx="519.50" cy="168.00" r="2.35" fill="#000"/>
<text class="a" x="377.90" y="204.50" font-size="6.0" text-anchor="middle" fill="#222" transform="rotate(-90 377.90 204.50)"  textLength="53.9" lengthAdjust="spacingAndGlyphs" stroke="#222" stroke-width="0.22">Relative density (%)</text>
<text class="a" x="459.00" y="273.60" font-size="6.0" fill="#222"  textLength="14.0" lengthAdjust="spacingAndGlyphs" stroke="#222" stroke-width="0.22">mesh</text>
<text class="s" x="367.40" y="144.70" font-size="13.4" font-weight="bold" fill="#000"  textLength="13.6" lengthAdjust="spacingAndGlyphs">(f)</text>
</svg>
</body></html>
